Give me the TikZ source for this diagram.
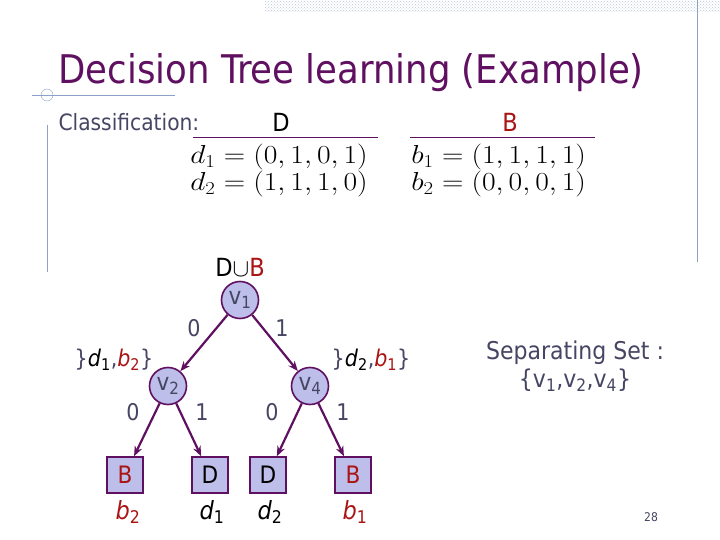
\RequirePackage{fix-cm}
\documentclass[tikz,border=0pt]{standalone}
\usepackage{fontspec}
\setmainfont{DejaVu Sans Condensed}
\usetikzlibrary{patterns,arrows.meta}
\definecolor{pur}{RGB}{96,16,96}
\definecolor{fillv}{RGB}{190,190,235}
\definecolor{lab}{RGB}{70,70,100}
\definecolor{redc}{RGB}{170,20,20}
\definecolor{deco}{RGB}{140,160,200}
\newcommand{\rd}[1]{\textcolor{redc}{#1}}
\begin{document}
\begin{tikzpicture}[x=1pt,y=-1pt,
  inner/.style={circle,draw=pur,line width=1.6pt,fill=fillv,minimum size=37pt,inner sep=0pt,font=\fontsize{24}{24}\selectfont,text=lab},
  leaf/.style={rectangle,draw=pur,line width=1.6pt,fill=fillv,minimum size=36pt,inner sep=0pt,font=\fontsize{24}{24}\selectfont},
  edge/.style={draw=pur,line width=2.2pt,-{Stealth[length=10pt,width=8pt]}},
  elab/.style={font=\fontsize{23}{23}\selectfont,text=lab},
  setlab/.style={font=\fontsize{23}{23}\selectfont,text=lab},
  below/.style={font=\fontsize{25}{25}\selectfont}]
\useasboundingbox[fill=white] (0,0) rectangle (720,540);
% decoration
\fill[pattern=crosshatch dots,pattern color=deco!60] (265,0) rectangle (720,12);
\draw[deco] (697,0) -- (697,262);
\draw[deco] (47,125) -- (47,272);
\draw[deco] (32,95) -- (175,95);
\draw[deco] (47,95) circle (6);
% title
\node[anchor=base west,text=pur,font=\fontsize{39.5}{40}\selectfont] (title) at (55,84) {Decision Tree learning (Example)};
\node[anchor=base west,text=lab,font=\fontsize{22.5}{22}\selectfont] (cls) at (55,131) {Classification:};
\node[anchor=base,font=\fontsize{25}{25}\selectfont] (hD) at (281,132) {D};
\node[anchor=base,font=\fontsize{25}{25}\selectfont,text=redc] (hB) at (510,132) {B};
\draw[pur,line width=1pt] (193,138) -- (378,138);
\draw[pur,line width=1pt] (410,138) -- (595,138);
\tikzset{mth/.style={anchor=base west,font=\fontsize{26}{26}\selectfont,xscale=1.14,inner sep=1pt}}
\node[mth] (d1) at (189,164) {$d_1=(0,1,0,1)$};
\node[mth] (d2) at (189,191) {$d_2=(1,1,1,0)$};
\node[mth] (b1) at (410,164) {$b_1=(1,1,1,1)$};
\node[mth] (b2) at (410,191) {$b_2=(0,0,0,1)$};
\node[font=\fontsize{25}{25}\selectfont] (DB) at (240,267) {D$\cup$\rd{B}};
% tree
\node[inner] (v1) at (240,300) {v\textsubscript{1}};
\node[inner] (v2) at (168,386) {v\textsubscript{2}};
\node[inner] (v4) at (310,386) {v\textsubscript{4}};
\node[leaf] (l1) at (125,475) {\rd{B}};
\node[leaf] (l2) at (210,475) {D};
\node[leaf] (l3) at (268,475) {D};
\node[leaf] (l4) at (353,475) {\rd{B}};
\draw[edge] (v1) -- (v2);
\draw[edge] (v1) -- (v4);
\draw[edge] (v2) -- (l1);
\draw[edge] (v2) -- (l2);
\draw[edge] (v4) -- (l3);
\draw[edge] (v4) -- (l4);
\node[elab] (e1) at (194,328) {0};
\node[elab] (e2) at (282,328) {1};
\node[elab] (e3) at (133,412) {0};
\node[elab] (e4) at (202,412) {1};
\node[elab] (e5) at (272,412) {0};
\node[elab] (e6) at (343,412) {1};
\node[setlab] (s1) at (114,360) {\}\textcolor{black}{\textit{d}\textsubscript{1}},\rd{\textit{b}\textsubscript{2}}\}};
\node[setlab] (s2) at (371,360) {\}\textcolor{black}{\textit{d}\textsubscript{2}},\rd{\textit{b}\textsubscript{1}}\}};
\node[below,text=redc] (t1) at (128,512) {\textit{b}\textsubscript{2}};
\node[below] (t2) at (212,512) {\textit{d}\textsubscript{1}};
\node[below] (t3) at (270,512) {\textit{d}\textsubscript{2}};
\node[below,text=redc] (t4) at (355,512) {\textit{b}\textsubscript{1}};
\node[text=lab,font=\fontsize{24.5}{28}\selectfont,align=center] (sep) at (575,366) {Separating Set :\\\{v\textsubscript{1},v\textsubscript{2},v\textsubscript{4}\}};
\node[text=lab,font=\fontsize{12}{12}\selectfont] (pg) at (651,517) {28};
\end{tikzpicture}
\end{document}
